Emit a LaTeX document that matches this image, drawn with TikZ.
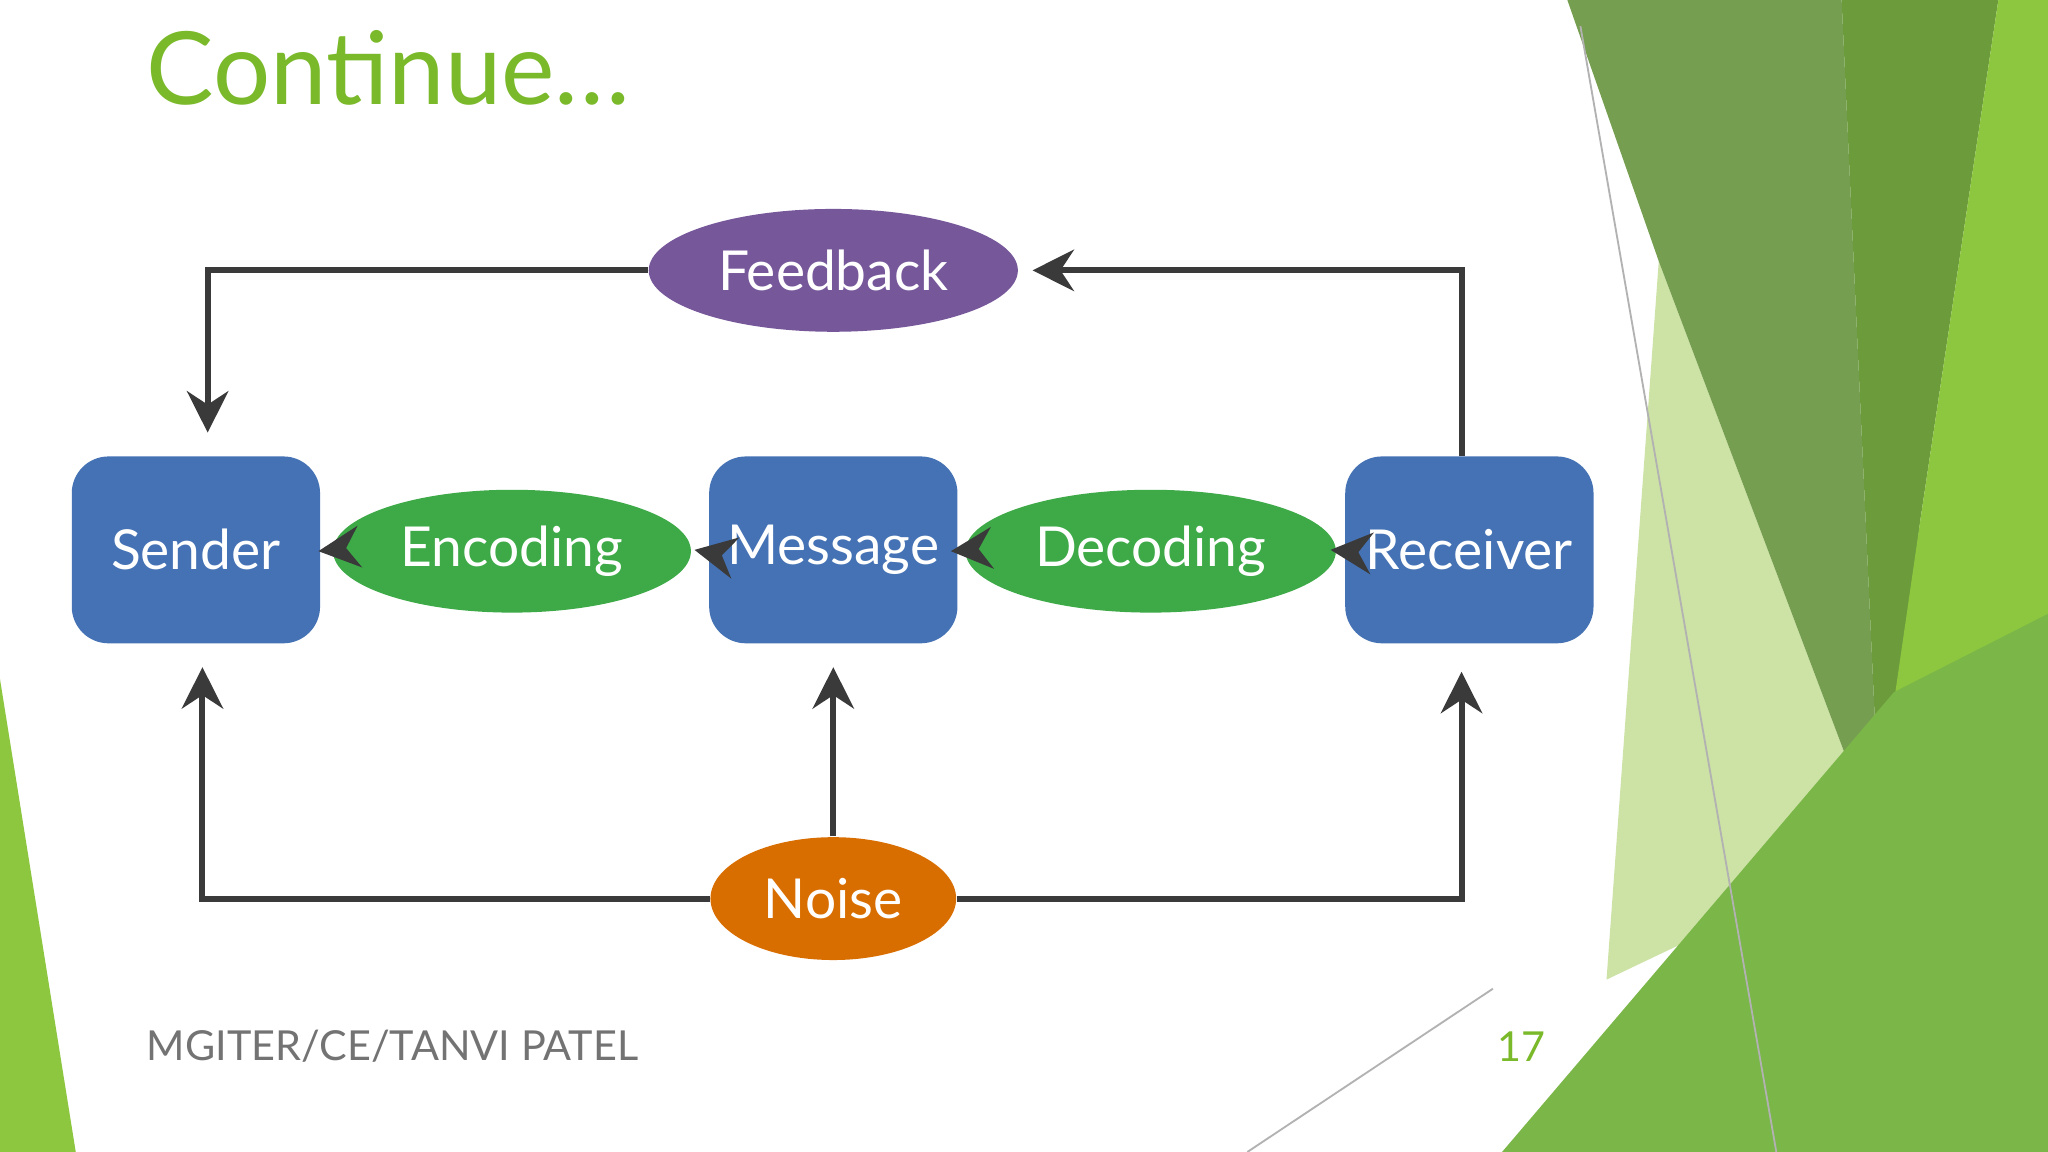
\documentclass[tikz,border=0pt]{standalone}
\usepackage{fontspec}
\setmainfont{Lato}
\usetikzlibrary{shapes.geometric,arrows.meta}
\definecolor{tgreen}{HTML}{7AB929}
\definecolor{bblue}{HTML}{4472B4}
\definecolor{egreen}{HTML}{3DAA47}
\definecolor{fpurple}{HTML}{76579A}
\definecolor{norange}{HTML}{D96E00}
\definecolor{ln}{HTML}{3A3A3A}
\definecolor{dA}{RGB}{205,226,165}
\definecolor{dB}{RGB}{118,158,80}
\definecolor{dC}{RGB}{108,155,60}
\definecolor{dD}{RGB}{141,198,63}
\definecolor{dE}{RGB}{122,182,72}
\begin{document}
\begin{tikzpicture}[x=0.01cm,y=-0.01cm,
 box/.style={draw=none,fill=bblue,rounded corners=8pt,minimum width=1.9cm,minimum height=1.43cm,text=white,font=\fontsize{12}{14}\selectfont},
 ell/.style={ellipse,draw=none,text=white,font=\fontsize{12}{14}\selectfont},
 enc/.style={ell,fill=egreen,minimum width=1.5cm,minimum height=0.94cm},
 big/.style={ell,minimum width=1.88cm,minimum height=0.94cm},
 arr/.style={draw=ln,line width=1.3pt,-{Stealth[length=9pt,width=9pt]}}]
\useasboundingbox (0,0) rectangle (1568,882);
\fill[white] (0,0) rectangle (1568,882);
% decoration
\fill[dA] (1270,200)--(1440,650)--(1230,750)--cycle;
\fill[dB] (1200,0)--(1410,0)--(1440,650)--(1270,200)--cycle;
\fill[dC] (1410,0)--(1530,0)--(1470,400)--(1440,650)--cycle;
\fill[dD] (1530,0)--(1568,0)--(1568,882)--(1400,882)--(1470,400)--cycle;
\fill[dE] (1150,882)--(1450,530)--(1568,470)--(1568,882)--cycle;
\fill[dD] (0,520)--(58,882)--(0,882)--cycle;
\draw[gray!60,line width=0.4pt] (955,882)--(1143,757);
\draw[gray!60,line width=0.4pt] (1210,20)--(1360,882);
% title
\node[anchor=west,text=tgreen,font=\fontsize{22}{26}\selectfont] (title) at (100,52) {Continue…};
% nodes
\node[box] (s) at (150,421) {Sender};
\node[box] (m) at (638,421) {Message};
\node[box] (r) at (1125,421) {Receiver};
\node[enc] (e) at (392,422) {Encoding};
\node[enc] (d) at (881,422) {Decoding};
\node[big,fill=fpurple] (f) at (638,207) {Feedback};
\node[big,fill=norange] (n) at (638,688) {Noise};
\coordinate (fl) at (159,207);
\coordinate (fr) at (1119,207);
\coordinate (nl) at (155,688);
\coordinate (nr) at (1119,688);
% arrows
\draw[arr] ([xshift=2]s.east) -- ([xshift=-3]e.west);
\draw[arr] ([xshift=2]e.east) -- ([xshift=-3]m.west);
\draw[arr] ([xshift=2]m.east) -- ([xshift=-3]d.west);
\draw[arr] ([xshift=2]d.east) -- ([xshift=-3]r.west);
\draw[arr] (f.west) -- (fl) -- ([yshift=5]s.north -| fl);
\draw[arr] (r.north -| fr) -- (fr) -- ([xshift=3]f.east);
\draw[arr] (n.west) -- (nl) -- ([yshift=-5]s.south -| nl);
\draw[arr] (n.north) -- ([yshift=-5]m.south);
\draw[arr] (n.east) -- (nr) -- ([yshift=-6]r.south -| nr);
% footer
\node[anchor=west,text=gray!90!black,font=\fontsize{9}{11}\selectfont] (ft) at (100,801) {MGITER/CE/TANVI PATEL};
\node[text=tgreen,font=\fontsize{9}{11}\selectfont] (pg) at (1165,801) {17};
\end{tikzpicture}
\end{document}
